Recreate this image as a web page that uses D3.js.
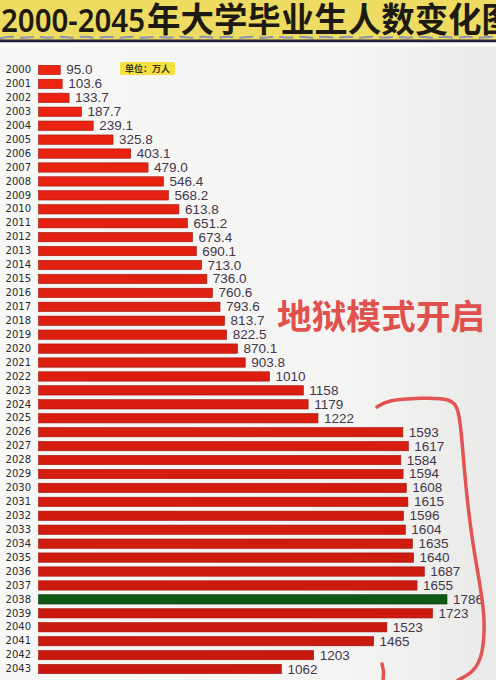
<!DOCTYPE html>
<html>
<head>
<meta charset="utf-8">
<script src="https://cdn.jsdelivr.net/npm/d3@7"></script>
<style>
  html, body { margin: 0; padding: 0; background: #f5f5f4; }
  svg { display: block; }
</style>
</head>
<body>
<div id="viz"></div>
<script>
// ---- data (万人) ----
var years = [2000,2001,2002,2003,2004,2005,2006,2007,2008,2009,2010,
             2011,2012,2013,2014,2015,2016,2017,2018,2019,2020,2021,
             2022,2023,2024,2025,2026,2027,2028,2029,2030,2031,2032,
             2033,2034,2035,2036,2037,2038,2039,2040,2041,2042,2043];
var graduates = [95.0,103.6,133.7,187.7,239.1,325.8,403.1,479.0,546.4,568.2,613.8,
                 651.2,673.4,690.1,713.0,736.0,760.6,793.6,813.7,822.5,870.1,903.8,
                 1010,1158,1179,1222,1593,1617,1584,1594,1608,1615,1596,
                 1604,1635,1640,1687,1655,1786,1723,1523,1465,1203,1062];
var valueLabels = ["95.0","103.6","133.7","187.7","239.1","325.8","403.1","479.0","546.4","568.2","613.8",
                   "651.2","673.4","690.1","713.0","736.0","760.6","793.6","813.7","822.5","870.1","903.8",
                   "1010","1158","1179","1222","1593","1617","1584","1594","1608","1615","1596",
                   "1604","1635","1640","1687","1655","1786","1723","1523","1465","1203","1062"];
var peakYear = 2038;

var titleNum = "2000-2045";
var titleCjk = "年大学毕业生人数变化图";
var unitText = "单位：万人";
var noteText = "地狱模式开启";

var W = 496, H = 680;

var svg = d3.select("#viz").append("svg")
    .attr("width", W)
    .attr("height", H);

// background, a touch greyer toward the right edge
var grad = svg.append("defs").append("linearGradient")
    .attr("id", "bg").attr("x1", 0).attr("x2", 1).attr("y1", 0).attr("y2", 0);
grad.append("stop").attr("offset", 0).attr("stop-color", "#f7f7f6");
grad.append("stop").attr("offset", 0.7).attr("stop-color", "#f4f4f3");
grad.append("stop").attr("offset", 1).attr("stop-color", "#e9e9e8");
svg.append("rect")
    .attr("width", W).attr("height", H)
    .attr("fill", "url(#bg)");

/* title band */
svg.append("rect")
    .attr("x", 0).attr("y", 0)
    .attr("width", W).attr("height", 40)
    .attr("fill", "#eedc62");

// little wavy border under the title
var wave = d3.range(0, W + 12, 12).map(function(x, i) { return [x, i % 2 ? 36 : 38.5]; });
svg.append("path")
    .attr("d", d3.line().curve(d3.curveBasis)(wave))
    .attr("fill", "none")
    .attr("stroke", "#8a92b8")
    .attr("stroke-width", 2)
    .attr("stroke-dasharray", "14 6");
svg.append("rect")
    .attr("x", 0).attr("y", 39.5)
    .attr("width", W).attr("height", 3)
    .attr("fill", "#25253a");
svg.append("rect")
    .attr("x", 0).attr("y", 42.5)
    .attr("width", W).attr("height", 4)
    .attr("fill", "#ffffff");

svg.append("text")
    .attr("x", 1).attr("y", 32)
    .attr("textLength", 144)
    .attr("lengthAdjust", "spacingAndGlyphs")
    .attr("font-family", "'Noto Sans', 'DejaVu Sans', sans-serif")
    .attr("font-weight", 600)
    .attr("font-size", 33)
    .attr("fill", "#1d1a14")
    .text(titleNum);
svg.append("text")
    .attr("x", 147).attr("y", 32)
    .attr("textLength", 368)
    .attr("lengthAdjust", "spacingAndGlyphs")
    .attr("font-family", "'Noto Sans CJK SC', sans-serif")
    .attr("font-weight", "bold")
    .attr("font-size", 34)
    .attr("fill", "#1d1a14")
    .text(titleCjk);

/* scales */
var x = d3.scaleLinear()
    .domain([0, 1786])
    .range([38.5, 447]);

var y = d3.scaleBand()
    .domain(years)
    .range([63, 676])
    .paddingInner(0.33)
    .paddingOuter(0.165);

var shade = d3.scaleLinear()
    .domain([0, years.length - 1])
    .range(["#ee2410", "#c8180f"]);

/* year axis */
var yAxis = svg.append("g")
    .attr("transform", "translate(31,0)")
    .call(d3.axisLeft(y).tickSize(0).tickPadding(0));
yAxis.select(".domain").remove();
yAxis.selectAll("text")
    .attr("font-family", "'DejaVu Sans', sans-serif")
    .attr("font-size", 10)
    .attr("fill", "#2a2a2a");

/* bars */
svg.append("g")
    .selectAll("rect")
    .data(years)
    .enter()
    .append("rect")
        .attr("x", x(0))
        .attr("y", function(d) { return y(d); })
        .attr("width", function(d, i) { return x(graduates[i]) - x(0); })
        .attr("height", y.bandwidth())
        .attr("fill", function(d, i) { return d === peakYear ? "#0e5a14" : shade(i); })
        .attr("stroke", function(d) { return d === peakYear ? "#073a0a" : "#9e140c"; })
        .attr("stroke-width", 0.6);

/* value labels */
svg.append("g")
    .selectAll("text")
    .data(years)
    .enter()
    .append("text")
        .attr("x", function(d, i) { return x(graduates[i]) + 6; })
        .attr("y", function(d) { return y(d) + y.bandwidth() / 2 + 4.5; })
        .attr("font-family", "'Liberation Sans', Arial, sans-serif")
        .attr("font-size", 13.5)
        .attr("fill", "#43364a")
        .text(function(d, i) { return valueLabels[i]; });

/* unit tag */
svg.append("rect")
    .attr("x", 120).attr("y", 62)
    .attr("width", 55).attr("height", 13)
    .attr("rx", 2)
    .attr("fill", "#f2e13e");
svg.append("text")
    .attr("x", 147.5).attr("y", 72)
    .attr("text-anchor", "middle")
    .attr("font-family", "'Noto Sans CJK SC', sans-serif")
    .attr("font-weight", "bold")
    .attr("font-size", 9)
    .attr("fill", "#3a3320")
    .text(unitText);

/* annotation */
svg.append("text")
    .attr("x", 277).attr("y", 329)
    .attr("textLength", 208)
    .attr("lengthAdjust", "spacingAndGlyphs")
    .attr("font-family", "'Noto Sans CJK SC', sans-serif")
    .attr("font-weight", "bold")
    .attr("font-size", 34)
    .attr("fill", "#e0504c")
    .text(noteText);

// hand drawn bracket
var bracket = [[377,407],[388,400],[420,398],[452,398],[459,410],[462,440],
               [466,490],[472,540],[481,590],[485,620],[483,655],[474,672],[458,680]];
svg.append("path")
    .attr("d", d3.line().curve(d3.curveBasis)(bracket))
    .attr("fill", "none")
    .attr("stroke", "#e25454")
    .attr("stroke-width", 3.5)
    .attr("stroke-linecap", "round");
svg.append("path")
    .attr("d", d3.line().curve(d3.curveBasis)([[382,664],[384,672],[383,680]]))
    .attr("fill", "none")
    .attr("stroke", "#e25454")
    .attr("stroke-width", 3.5)
    .attr("stroke-linecap", "round");
</script>
</body>
</html>
